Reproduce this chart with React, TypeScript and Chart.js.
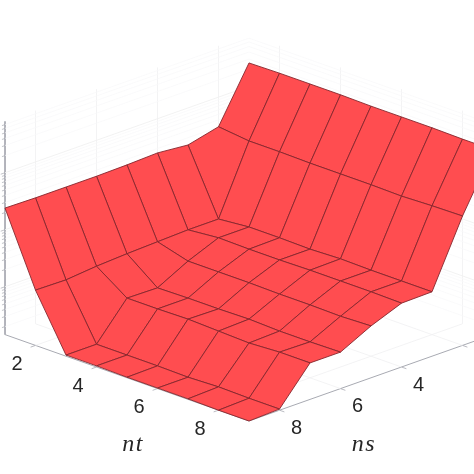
import { useEffect, useRef } from 'react';
import { Chart, registerables, type Plugin } from 'chart.js';

Chart.register(...registerables);

const nsValues = [1, 2, 3, 4, 5, 6, 7, 8, 9];
const ntValues = [1, 2, 3, 4, 5, 6, 7, 8, 9];
const ntTicks = [2, 4, 6, 8];
const nsTicks = [2, 4, 6, 8];

// log10 of the surface height, one row per nt, ns = 1..9 along the row
const logZNt1 = [-0.59, -1.52, -1.65, -1.60, -1.62, -1.63, -1.63, -1.63, -1.62];
const logZNt2 = [-0.58, -1.58, -2.76, -2.76, -2.78, -2.80, -2.83, -2.88, -2.87];
const logZNt3 = [-0.58, -1.58, -2.71, -2.71, -2.93, -3.21, -3.20, -3.82, -3.82];
const logZNt4 = [-0.58, -1.59, -2.71, -2.72, -2.93, -3.20, -3.20, -3.82, -3.82];
const logZNt5 = [-0.59, -1.59, -2.72, -2.72, -2.93, -3.20, -3.19, -3.82, -3.83];
const logZNt6 = [-0.59, -1.59, -2.70, -2.71, -2.94, -3.19, -3.21, -3.83, -3.83];
const logZNt7 = [-0.59, -1.60, -2.71, -2.71, -2.94, -3.21, -3.23, -3.81, -3.83];
const logZNt8 = [-0.60, -1.58, -2.71, -2.71, -2.95, -3.21, -3.20, -3.82, -3.84];
const logZNt9 = [-0.60, -1.57, -2.71, -2.72, -2.93, -3.20, -3.20, -3.82, -3.84];
const logZ = [logZNt1, logZNt2, logZNt3, logZNt4, logZNt5, logZNt6, logZNt7, logZNt8, logZNt9];

const zDecades = [-3, -2, -1];
const zMinors = [2, 3, 4, 5, 6, 7, 8, 9];
const zFloor = -3.84;
const zTop = -0.1;

// fixed view of the 3D box, orthographic
function project(nt: number, ns: number, z: number) {
  return {
    x: 249 + 30.5 * (nt - ns),
    y: 421 - 10.8 * (18 - nt - ns) - 57 * (z - zFloor),
  };
}

const NT0 = ntValues[0];
const NT1 = ntValues[ntValues.length - 1];
const NS0 = nsValues[0];
const NS1 = nsValues[nsValues.length - 1];

function polyline(points: { x: number; y: number }[], color: string, width: number) {
  return { data: points, showLine: true, borderColor: color, borderWidth: width, pointRadius: 0, fill: false, tension: 0 };
}

function zLevels() {
  const out: { z: number; major: boolean }[] = [];
  for (const d of [zDecades[0] - 1, ...zDecades]) {
    for (const m of [1, ...zMinors]) {
      const z = d + Math.log10(m);
      if (z >= zFloor && z <= zTop) out.push({ z, major: m === 1 });
    }
  }
  return out;
}

function buildDatasets() {
  const quads: any[] = [];
  for (let i = ntValues.length - 2; i >= 0; i--) {
    for (let j = nsValues.length - 2; j >= 0; j--) {
      const a = project(ntValues[i], nsValues[j], logZ[i][j]);
      const b = project(ntValues[i + 1], nsValues[j], logZ[i + 1][j]);
      const c = project(ntValues[i + 1], nsValues[j + 1], logZ[i + 1][j + 1]);
      const d = project(ntValues[i], nsValues[j + 1], logZ[i][j + 1]);
      quads.push({
        sum: i + j,
        data: [a, b, c, d, a],
        showLine: true,
        borderColor: '#86262d',
        borderWidth: 0.9,
        backgroundColor: '#ff4d50',
        fill: 'shape',
        pointRadius: 0,
        tension: 0,
      });
    }
  }
  // index 0 is painted last, so the front cells go first
  quads.sort((p, q) => q.sum - p.sum);

  const grid: any[] = [];
  const axisGray = '#a8aab2';

  for (const { z, major } of zLevels()) {
    grid.push(polyline(
      [project(NT0, NS1, z), project(NT0, NS0, z), project(NT1, NS0, z)],
      major ? '#f0f0f1' : '#f8f8f9',
      major ? 0.9 : 0.7,
    ));
    grid.push(polyline(
      [project(NT0, NS1, z), project(NT0, NS1 + (major ? 0.14 : 0.1), z)],
      axisGray,
      0.7,
    ));
  }
  for (const nt of ntTicks) {
    grid.push(polyline([project(nt, NS1, zFloor), project(nt, NS0, zFloor), project(nt, NS0, zTop)], '#f0f0f1', 0.8));
    grid.push(polyline([project(nt, NS1, zFloor), project(nt, NS1 + 0.16, zFloor)], axisGray, 0.8));
  }
  for (const ns of nsTicks) {
    grid.push(polyline([project(NT1, ns, zFloor), project(NT0, ns, zFloor), project(NT0, ns, zTop)], '#f0f0f1', 0.8));
    grid.push(polyline([project(NT1, ns, zFloor), project(NT1 + 0.16, ns, zFloor)], axisGray, 0.8));
  }
  grid.push(polyline([project(NT0, NS1, zTop), project(NT0, NS1, zFloor), project(NT1, NS1, zFloor), project(NT1, NS0, zFloor)], axisGray, 1));

  return [...quads, ...grid];
}

const labelsPlugin: Plugin<'scatter'> = {
  id: 'axisLabels',
  afterDraw(chart) {
    const { ctx, scales } = chart;
    const px = (x: number) => scales.x.getPixelForValue(x);
    const py = (y: number) => scales.y.getPixelForValue(y);
    ctx.save();
    ctx.textAlign = 'center';
    ctx.textBaseline = 'middle';
    ctx.fillStyle = '#262626';
    ctx.font = '20px "Liberation Sans", sans-serif';
    for (const nt of ntTicks) {
      const p = project(nt, NS1, zFloor);
      ctx.fillText(String(nt), px(p.x) - 18.5, py(p.y) + 19);
    }
    for (const ns of nsTicks) {
      const p = project(NT1, ns, zFloor);
      ctx.fillText(String(ns), px(p.x) + 17, py(p.y) + 18);
    }
    ctx.font = 'italic 24px "Liberation Serif", serif';
    (ctx as any).letterSpacing = '1.5px';
    ctx.fillText('nt', 133, 445);
    ctx.fillText('ns', 364, 445);
    ctx.restore();
  },
};

export default function App() {
  const canvasRef = useRef<HTMLCanvasElement>(null);

  useEffect(() => {
    document.body.style.margin = '0';
    if (!canvasRef.current) return;
    const chart = new Chart(canvasRef.current, {
      type: 'scatter',
      plugins: [labelsPlugin],
      data: { datasets: buildDatasets() },
      options: {
        responsive: false,
        animation: false,
        layout: { padding: 0 },
        scales: {
          x: { type: 'linear', min: 0, max: 474, display: false },
          y: { type: 'linear', min: 0, max: 474, reverse: true, display: false },
        },
        plugins: {
          legend: { display: false },
          tooltip: { enabled: false },
        },
      },
    });
    return () => chart.destroy();
  }, []);

  return <canvas ref={canvasRef} width={474} height={474} style={{ display: 'block' }} />;
}
